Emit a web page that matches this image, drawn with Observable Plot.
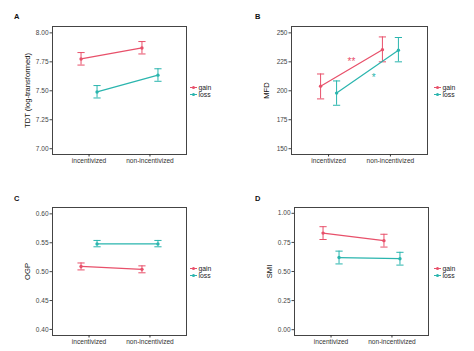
<!DOCTYPE html>
<html>
<head>
<meta charset="utf-8">
<script src="https://cdn.jsdelivr.net/npm/d3@7"></script>
<script src="https://cdn.jsdelivr.net/npm/@observablehq/plot@0.6"></script>
<style>
  body { margin: 0; background: #fff; font-family: "Liberation Sans", Arial, sans-serif; }
  #wrap { position: relative; width: 474px; height: 351px; overflow: hidden; background: #fff; }
  .panel { position: absolute; }
  .letter { position: absolute; font-weight: bold; font-size: 7.5px; color: #111; }
  .legend { position: absolute; font-size: 6.8px; color: #222; line-height: 7px; }
  .legend div { display: flex; align-items: center; height: 7px; }
  .legend svg { margin-right: 1.5px; }
</style>
</head>
<body>
<div id="wrap"></div>
<script>
// ---- data ----
const conditions = ["incentivized", "non-incentivized"];
const groups = ["gain", "loss"];
const groupColors = ["#E8506A", "#2AB5AE"];
const panelLetters = ["A", "B", "C", "D"];
const yLabels = ["TDT (log-transformed)", "MFD", "OGP", "SMI"];

// rows: [gain, loss]; columns: [incentivized, non-incentivized]
const tdtMean = [[7.775, 7.870], [7.490, 7.635]];
const tdtLow  = [[7.722, 7.818], [7.438, 7.582]];
const tdtHigh = [[7.830, 7.925], [7.545, 7.690]];
const tdtTicks = [7.00, 7.25, 7.50, 7.75, 8.00];

const mfdMean = [[204, 235.5], [198, 235]];
const mfdLow  = [[193, 225], [187.5, 225]];
const mfdHigh = [[214.5, 246.5], [208.5, 246]];
const mfdTicks = [150, 175, 200, 225, 250];
const mfdStarText = ["**", "*"];
const mfdStarX = [1.37, 1.73];
const mfdStarY = [225, 211];

const ogpMean = [[0.509, 0.504], [0.548, 0.548]];
const ogpLow  = [[0.503, 0.498], [0.543, 0.543]];
const ogpHigh = [[0.515, 0.510], [0.554, 0.554]];
const ogpTicks = [0.40, 0.45, 0.50, 0.55, 0.60];

const smiMean = [[0.830, 0.765], [0.620, 0.610]];
const smiLow  = [[0.775, 0.710], [0.565, 0.555]];
const smiHigh = [[0.885, 0.820], [0.675, 0.665]];
const smiTicks = [0.00, 0.25, 0.50, 0.75, 1.00];

// ---- drawing ----
const capSymbol = { draw(ctx) { ctx.moveTo(-3.6, 0); ctx.lineTo(3.6, 0); } };

function makePanel({means, lows, highs, ticks, domain, label, fmt, margins, stars, width, height}) {
  const rows = [];
  groups.forEach((g, gi) => conditions.forEach((c, ci) => rows.push({
    group: g, x: ci + 1, mean: means[gi][ci], lo: lows[gi][ci], hi: highs[gi][ci]
  })));
  const marks = [];
  groups.forEach((g, gi) => {
    const d = rows.filter(r => r.group === g);
    const col = groupColors[gi];
    const dx = gi === 0 ? -8 : 8;
    marks.push(Plot.line(d, {x: "x", y: "mean", stroke: col, strokeWidth: 1.2, dx}));
    marks.push(Plot.ruleX(d, {x: "x", y1: "lo", y2: "hi", stroke: col, strokeWidth: 1, dx}));
    marks.push(Plot.dot(d, {x: "x", y: "lo", symbol: capSymbol, stroke: col, strokeWidth: 1, dx}));
    marks.push(Plot.dot(d, {x: "x", y: "hi", symbol: capSymbol, stroke: col, strokeWidth: 1, dx}));
    marks.push(Plot.dot(d, {x: "x", y: "mean", fill: col, r: 1.7, dx}));
  });
  if (stars) {
    stars.forEach(s => marks.push(Plot.text([s], {x: "x", y: "y", text: "t", fill: s.color, fontSize: 10})));
  }
  marks.push(Plot.frame({stroke: "#444", strokeWidth: 1}));
  marks.push(Plot.axisY({ticks, tickFormat: fmt, tickSize: 2.5, tickPadding: 1.5, fontSize: 6.5, color: "#444", label: null}));
  marks.push(Plot.axisX({ticks: [1, 2], tickFormat: d => conditions[d - 1], tickSize: 2.5, tickPadding: 1, fontSize: 6.6, color: "#333", label: null}));
  marks.push(Plot.text([label], {frameAnchor: "left", textAnchor: "middle", dx: -25, rotate: -90, fontSize: 7.6, fill: "#111"}));
  return Plot.plot({
    width, height,
    marginLeft: margins[0], marginRight: margins[1], marginTop: margins[2], marginBottom: margins[3],
    style: {fontFamily: "'Liberation Sans', Arial, sans-serif", background: "#fff"},
    x: {domain: [0.4, 2.6]},
    y: {domain},
    marks
  });
}

const wrap = document.getElementById("wrap");
const f2 = d3.format(".2f");
const f0 = d3.format("d");

const panels = [
  {left: 0, top: 0, width: 237, height: 175, means: tdtMean, lows: tdtLow, highs: tdtHigh, ticks: tdtTicks, domain: [6.95, 8.055], fmt: f2, margins: [52, 51, 26, 21], legendTop: 84, legendLeft: 190, letterLeft: 14, letterTop: 12},
  {left: 237, top: 0, width: 237, height: 175, means: mfdMean, lows: mfdLow, highs: mfdHigh, ticks: mfdTicks, domain: [145, 255.5], fmt: f0, margins: [54, 47, 26, 21], legendTop: 84, legendLeft: 197, letterLeft: 18, letterTop: 12,
    stars: mfdStarText.map((t, i) => ({t, x: mfdStarX[i], y: mfdStarY[i], color: groupColors[i]}))},
  {left: 0, top: 175, width: 237, height: 176, means: ogpMean, lows: ogpLow, highs: ogpHigh, ticks: ogpTicks, domain: [0.3895, 0.611], fmt: f2, margins: [52, 51, 32, 16], legendTop: 90, legendLeft: 190, letterLeft: 14, letterTop: 19},
  {left: 237, top: 175, width: 237, height: 176, means: smiMean, lows: smiLow, highs: smiHigh, ticks: smiTicks, domain: [-0.05, 1.05], fmt: f2, margins: [57, 46, 32, 16], legendTop: 90, legendLeft: 197, letterLeft: 18, letterTop: 19}
];

panels.forEach((p, i) => {
  const div = document.createElement("div");
  div.className = "panel";
  div.style.left = p.left + "px";
  div.style.top = p.top + "px";
  div.appendChild(makePanel({...p, label: yLabels[i]}));
  wrap.appendChild(div);

  const letter = document.createElement("div");
  letter.className = "letter";
  letter.textContent = panelLetters[i];
  letter.style.left = (p.left + p.letterLeft) + "px";
  letter.style.top = (p.top + p.letterTop) + "px";
  wrap.appendChild(letter);

  const leg = document.createElement("div");
  leg.className = "legend";
  leg.style.left = (p.left + p.legendLeft) + "px";
  leg.style.top = (p.top + p.legendTop) + "px";
  groups.forEach((g, gi) => {
    const row = document.createElement("div");
    row.innerHTML = `<svg width="7" height="7"><line x1="0" y1="3.5" x2="7" y2="3.5" stroke="${groupColors[gi]}" stroke-width="1"/><circle cx="3.5" cy="3.5" r="1.5" fill="${groupColors[gi]}"/></svg><span>${g}</span>`;
    leg.appendChild(row);
  });
  wrap.appendChild(leg);
});
</script>
</body>
</html>
